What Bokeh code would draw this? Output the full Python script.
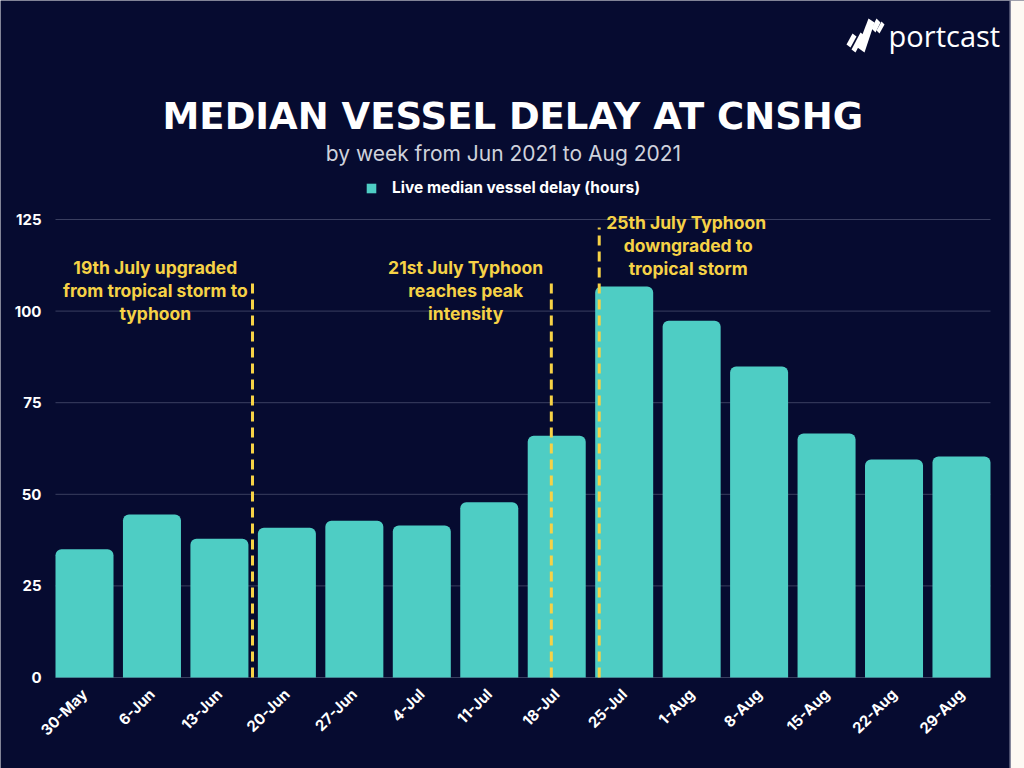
import math
from bokeh.plotting import figure
from bokeh.models import ColumnDataSource, FixedTicker, Legend, LegendItem
from bokeh.core.properties import value
from bokeh.embed import file_html
from bokeh.resources import INLINE

# ---- data ----
weeks = ["30-May", "6-Jun", "13-Jun", "20-Jun", "27-Jun", "4-Jul", "11-Jul",
         "18-Jul", "25-Jul", "1-Aug", "8-Aug", "15-Aug", "22-Aug", "29-Aug"]
delay = [35.0, 44.5, 37.9, 40.9, 42.8, 41.5, 47.8,
         66.0, 106.7, 97.4, 84.9, 66.6, 59.5, 60.3]
y_ticks = [0, 25, 50, 75, 100, 125]

title_text = "MEDIAN VESSEL DELAY AT CNSHG"
subtitle_text = "by week from Jun 2021 to Aug 2021"
legend_label = "Live median vessel delay (hours)"

event_x = [2.49, 6.92, 7.63]          # week-index position of event markers
event_top = [107.8, 107.8, 122.8]
event_labels = [
    ["19th July upgraded", "from tropical storm to", "typhoon"],
    ["21st July Typhoon", "reaches peak", "intensity"],
    ["25th  July Typhoon", "downgraded to", "tropical storm"],
]
event_label_x = [1.05, 5.65, 8.95]
event_label_y = [111.9, 111.9, 124.3]

# ---- style ----
BG = "#060b30"
BAR = "#4ecdc4"
YEL = "#f6d246"
GRID = "#3a3f60"
PX = 3.664   # pixels per hour unit
PXX = 67.46  # pixels per week
X0, X1 = -84 / PXX, 940 / PXX
Y0, Y1 = -91 / PX, 677 / PX

def px2x(px):
    return (px - 84) / PXX
def py2y(py):
    return (677 - py) / PX

p = figure(width=1024, height=768, x_range=(X0, X1), y_range=(Y0, Y1),
           output_backend="svg", toolbar_location=None,
           min_border_left=0, min_border_right=0, min_border_top=0, min_border_bottom=0,
           background_fill_color=BG, border_fill_color=BG, outline_line_color=None)
p.xgrid.visible = False
p.ygrid.visible = False

# right-hand page strip
p.quad(left=[px2x(1010)], right=[X1], bottom=[Y0], top=[Y1], fill_color="#fdf9f3",
       line_color=None)
p.segment(x0=[px2x(1009.5)], x1=[px2x(1009.5)], y0=[Y0], y1=[Y1], line_color="#8a8ea6",
          line_width=1)

# grid lines
p.segment(x0=[-0.43] * len(y_ticks), x1=[13.43] * len(y_ticks), y0=y_ticks, y1=y_ticks,
          line_color=GRID, line_width=1)

src = ColumnDataSource(dict(x=list(range(len(weeks))), top=delay))
bars = p.vbar(x="x", top="top", width=0.86, source=src, fill_color=BAR, line_color=None,
              border_radius=(6, 6, 0, 0))

# event markers
p.segment(x0=event_x, x1=event_x, y0=[0] * 3, y1=event_top, line_color=YEL,
          line_width=3, line_dash="10 6")
for lines, lx, ly in zip(event_labels, event_label_x, event_label_y):
    ys = [ly - k * 23 / PX for k in range(len(lines))]
    p.text(x=[lx] * len(lines), y=ys, text=lines, text_color=YEL,
           text_font=value("Inter"), text_font_style="bold", text_font_size="17.5px",
           text_align="center", text_baseline="middle")

# titles
p.text(x=[6.35], y=[153.1], text=[title_text], text_color="white",
       text_font=value("DejaVu Sans"), text_font_style="bold", text_font_size="37px",
       text_align="center", text_baseline="middle")
p.text(x=[6.21], y=[143.0], text=[subtitle_text], text_color="#cfd2dc",
       text_font=value("Inter"), text_font_size="21px",
       text_align="center", text_baseline="middle")

# logo
p.text(x=[11.92], y=[175.2], text=["portcast"], text_color="white",
       text_font=value("Open Sans"), text_font_size="29px",
       text_align="left", text_baseline="middle")
icon = [
    [(846, 44), (852, 33), (856, 36), (850, 47)],
    [(851, 49), (860, 32), (864, 35), (855, 52)],
    [(857, 47), (868, 18), (874, 22), (864, 52)],
    [(871, 28), (876, 18), (880, 22), (875, 32)],
    [(876, 30), (881, 21), (884, 24), (879, 33)],
]
p.patches(xs=[[px2x(a) for a, b in poly] for poly in icon],
          ys=[[py2y(b) for a, b in poly] for poly in icon],
          fill_color="white", line_color=None)

# legend
legend = Legend(items=[LegendItem(label=legend_label, renderers=[bars])],
                location=(365, 571), orientation="horizontal",
                background_fill_alpha=0, border_line_color=None,
                label_text_color="white", label_text_font="Inter",
                label_text_font_style="bold", label_text_font_size="15.5px",
                glyph_width=12, glyph_height=12, padding=0, margin=0,
                label_standoff=15)
p.add_layout(legend)

# axes
p.xaxis.fixed_location = 0
p.yaxis.fixed_location = -0.43
p.xaxis.ticker = FixedTicker(ticks=list(range(len(weeks))))
p.xaxis.major_label_overrides = {i: w for i, w in enumerate(weeks)}
p.xaxis.major_label_orientation = math.pi / 4
p.yaxis.ticker = FixedTicker(ticks=y_ticks)
for ax in (p.xaxis, p.yaxis):
    ax.axis_line_color = None
    ax.major_tick_line_color = None
    ax.minor_tick_line_color = None
    ax.major_label_text_color = "white"
    ax.major_label_text_font = "Inter"
    ax.major_label_text_font_style = "bold"
    ax.major_label_text_font_size = "15px"
p.yaxis.major_label_standoff = 8
p.xaxis.major_label_standoff = 8

open("out.html", "w").write(file_html(p, INLINE))
